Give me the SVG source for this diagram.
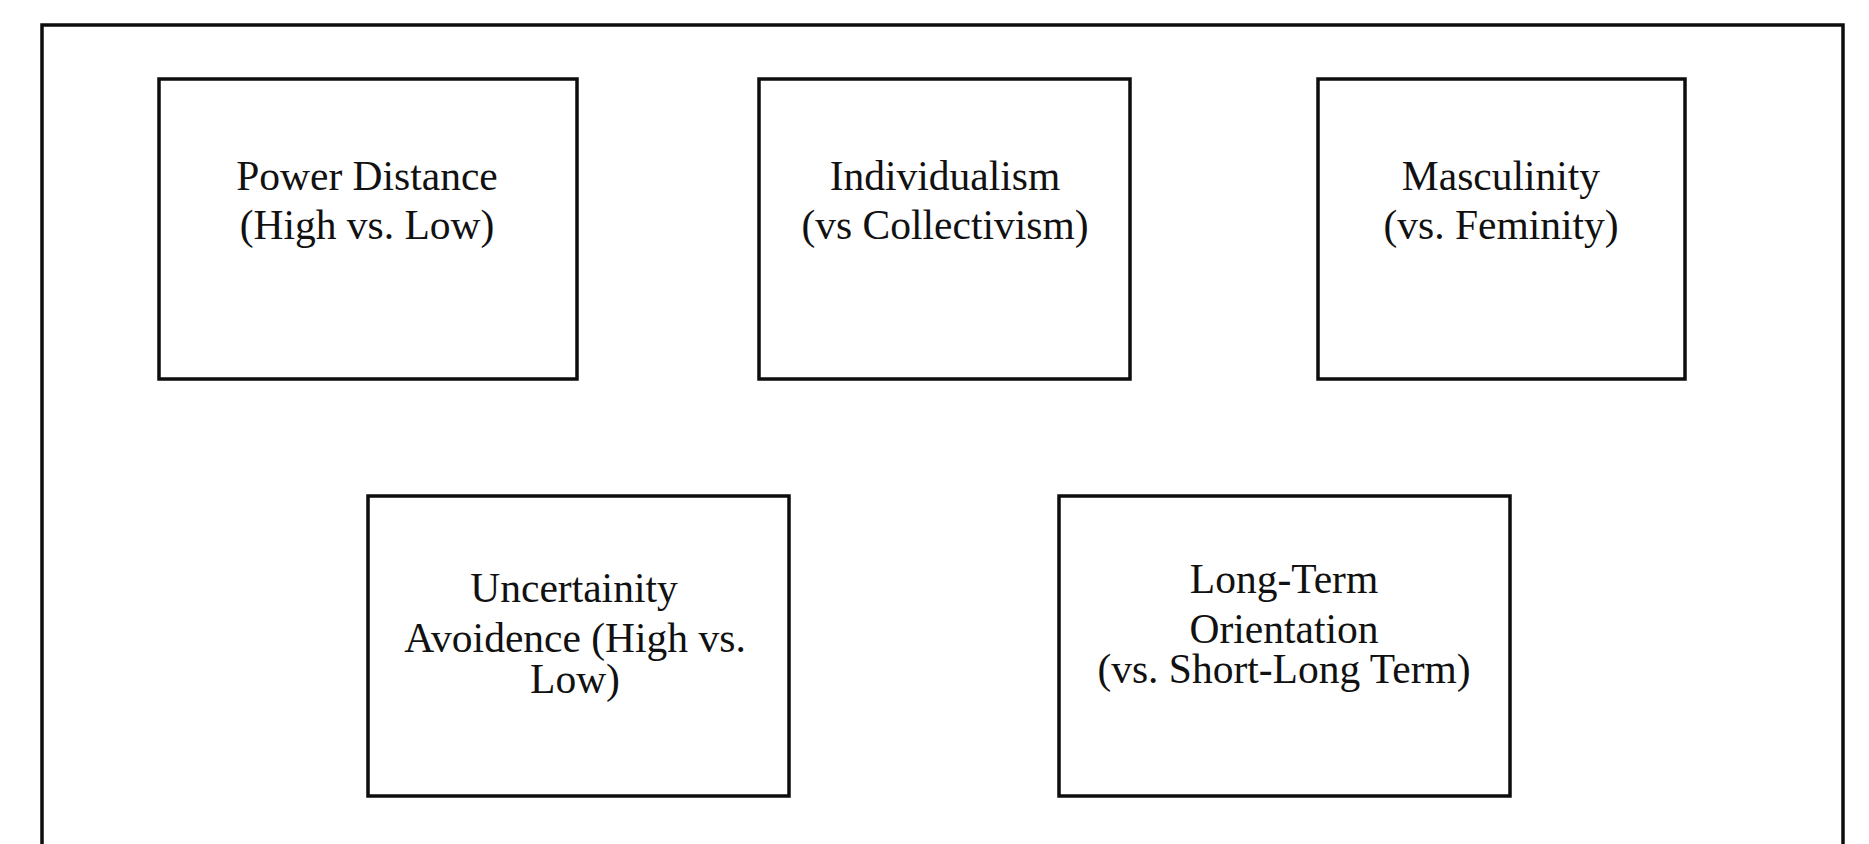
<svg xmlns="http://www.w3.org/2000/svg" width="1869" height="844" viewBox="0 0 1869 844">
<style>
.frame{fill:none;stroke:#0d0d0d;stroke-width:3.5}
.box{fill:#fff;stroke:#0d0d0d;stroke-width:3.5}
.lbl{font-family:"Liberation Serif","Times New Roman",serif;font-size:41.5px;fill:#111;text-anchor:middle}
</style>
<rect width="1869" height="844" fill="#fff"/>
<rect id="frame" class="frame" x="42" y="25" width="1801" height="900"/>
<g id="connectors"/>
<g id="power-distance">
<rect class="box" x="159" y="79" width="418" height="300"/>
<text class="lbl" x="367" y="190">Power Distance</text>
<text class="lbl" x="367" y="239">(High vs. Low)</text>
</g>
<g id="individualism">
<rect class="box" x="759" y="79" width="371" height="300"/>
<text class="lbl" x="945" y="190">Individualism</text>
<text class="lbl" x="945" y="239">(vs Collectivism)</text>
</g>
<g id="masculinity">
<rect class="box" x="1318" y="79" width="367" height="300"/>
<text class="lbl" x="1501" y="190">Masculinity</text>
<text class="lbl" x="1501" y="239">(vs. Feminity)</text>
</g>
<g id="uncertainty-avoidance">
<rect class="box" x="368" y="496" width="421" height="300"/>
<text class="lbl" x="574" y="602">Uncertainity</text>
<text class="lbl" x="575" y="652">Avoidence (High vs.</text>
<text class="lbl" x="575" y="693">Low)</text>
</g>
<g id="long-term-orientation">
<rect class="box" x="1059" y="496" width="451" height="300"/>
<text class="lbl" x="1284" y="593">Long-Term</text>
<text class="lbl" x="1284" y="643">Orientation</text>
<text class="lbl" x="1284" y="683">(vs. Short-Long Term)</text>
</g>
</svg>
